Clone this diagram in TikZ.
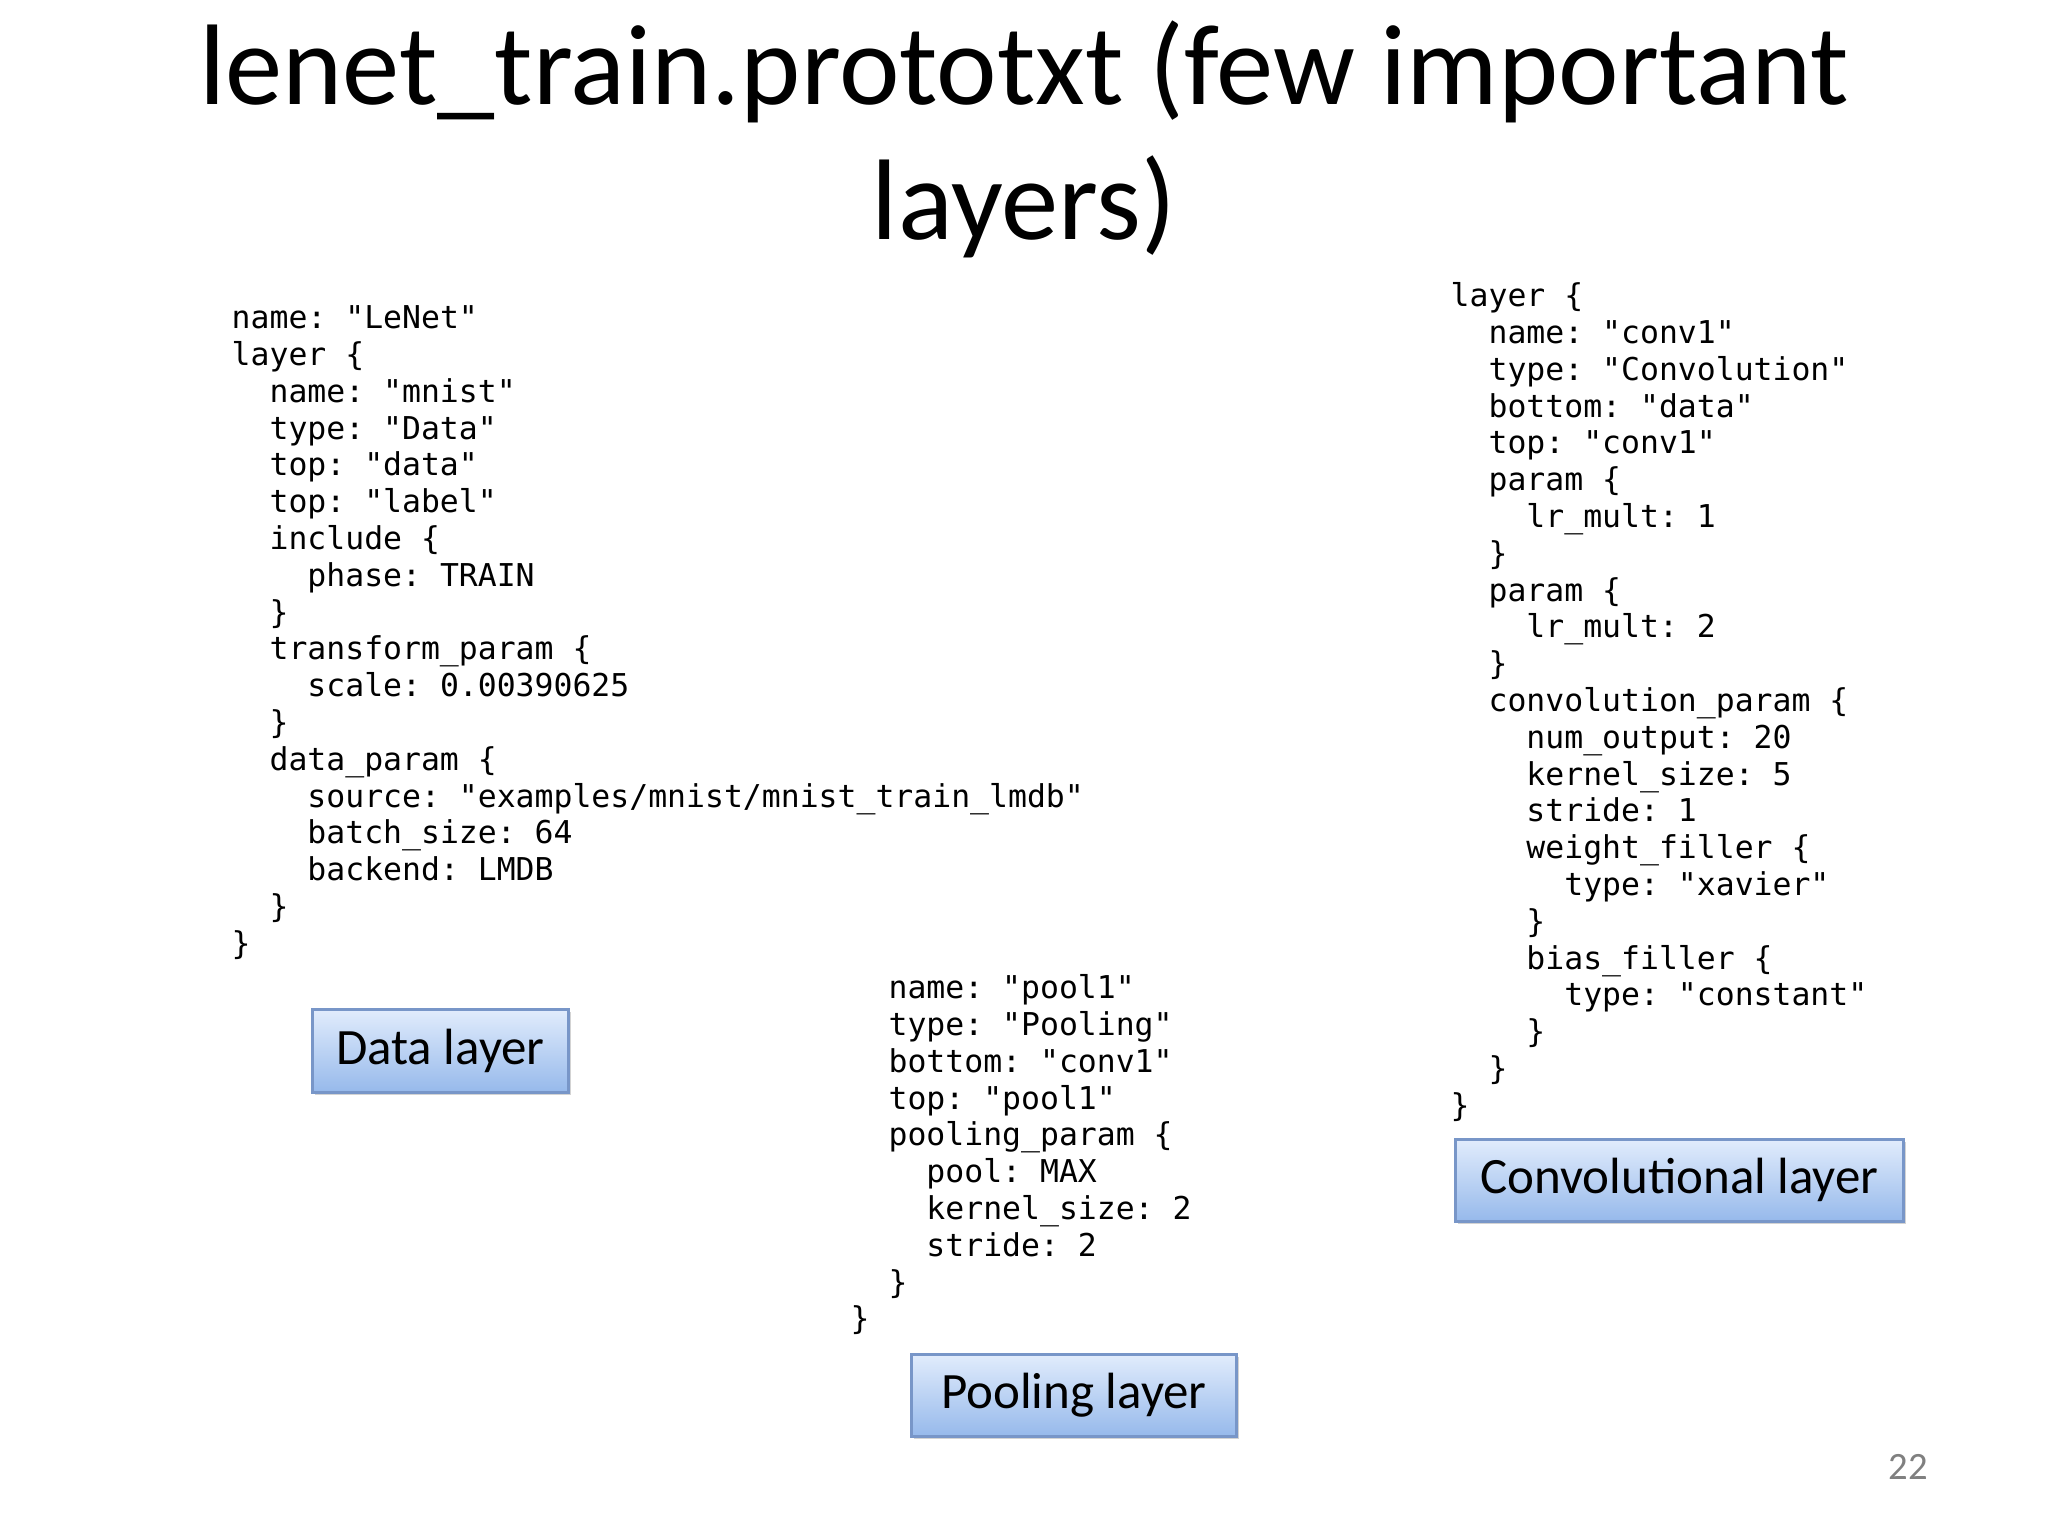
\documentclass[tikz,border=0pt]{standalone}
\usepackage{fontspec}
\setmainfont{Carlito}
\setmonofont{DejaVu Sans Mono}
\usetikzlibrary{shadows}
\newcommand\ia{\hspace*{1.204em}}
\newcommand\ib{\hspace*{2.408em}}
\newcommand\ic{\hspace*{3.612em}}
\definecolor{lblborder}{RGB}{120,150,200}
\definecolor{lbltop}{RGB}{225,236,252}
\definecolor{lblbot}{RGB}{150,185,235}
\tikzset{
 code/.style={anchor=north west,inner sep=0pt,align=left,font={\fontsize{8.95}{10.47}\selectfont\ttfamily}},
 lbl/.style={draw=lblborder,line width=0.8pt,top color=lbltop,bottom color=lblbot,
   drop shadow={shadow xshift=0.6pt,shadow yshift=-0.8pt,opacity=0.35},
   font=\fontsize{14.5}{17}\selectfont,inner sep=0pt,anchor=north west},
 title/.style={font=\fontsize{32.6}{36}\selectfont,anchor=center}
}
\begin{document}
\begin{tikzpicture}
\useasboundingbox (0,0) rectangle (20.48,-15.36);
\node[title] (t1) at (10.24,-0.72) {lenet\_train.prototxt (few important};
\node[title] (t2) at (10.24,-2.07) {layers)};
\node[code] (data) at (2.31,-3.05) {name: "LeNet"\\
layer \{\\
\ia name: "mnist"\\
\ia type: "Data"\\
\ia top: "data"\\
\ia top: "label"\\
\ia include \{\\
\ib phase: TRAIN\\
\ia \}\\
\ia transform\_param \{\\
\ib scale: 0.00390625\\
\ia \}\\
\ia data\_param \{\\
\ib source: "examples/mnist/mnist\_train\_lmdb"\\
\ib batch\_size: 64\\
\ib backend: LMDB\\
\ia \}\\
\}};
\node[code] (conv) at (14.50,-2.82) {layer \{\\
\ia name: "conv1"\\
\ia type: "Convolution"\\
\ia bottom: "data"\\
\ia top: "conv1"\\
\ia param \{\\
\ib lr\_mult: 1\\
\ia \}\\
\ia param \{\\
\ib lr\_mult: 2\\
\ia \}\\
\ia convolution\_param \{\\
\ib num\_output: 20\\
\ib kernel\_size: 5\\
\ib stride: 1\\
\ib weight\_filler \{\\
\ic type: "xavier"\\
\ib \}\\
\ib bias\_filler \{\\
\ic type: "constant"\\
\ib \}\\
\ia \}\\
\}};
\node[code] (pool) at (8.50,-9.74) {\ia name: "pool1"\\
\ia type: "Pooling"\\
\ia bottom: "conv1"\\
\ia top: "pool1"\\
\ia pooling\_param \{\\
\ib pool: MAX\\
\ib kernel\_size: 2\\
\ib stride: 2\\
\ia \}\\
\}};
\node[lbl,minimum width=2.56cm,minimum height=0.83cm] (ldata) at (3.11,-10.08) {Data layer};
\node[lbl,minimum width=4.48cm,minimum height=0.82cm] (lconv) at (14.54,-11.38) {Convolutional layer};
\node[lbl,minimum width=3.25cm,minimum height=0.82cm] (lpool) at (9.10,-13.53) {Pooling layer};
\node[font=\fontsize{11}{13}\selectfont,text=gray] (pg) at (19.08,-14.67) {22};
\end{tikzpicture}
\end{document}
